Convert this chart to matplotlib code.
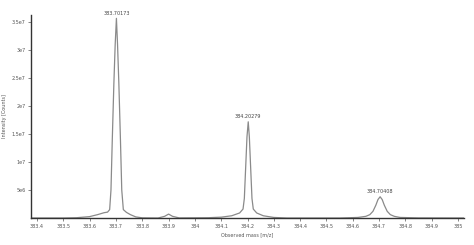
import matplotlib
matplotlib.use("Agg")
import matplotlib.pyplot as plt

mz = [383.377, 383.50, 383.55, 383.60, 383.63, 383.655, 383.668, 383.676,
      383.681, 383.686, 383.692, 383.697, 383.7017, 383.706, 383.711,
      383.717, 383.722, 383.728, 383.74, 383.755, 383.775, 383.80, 383.86,
      383.885, 383.90, 383.915, 383.94, 384.05, 384.10, 384.14, 384.17,
      384.183, 384.188, 384.193, 384.198, 384.2028, 384.207, 384.212,
      384.217, 384.222, 384.235, 384.26, 384.30, 384.35, 384.55, 384.62,
      384.65, 384.665, 384.677, 384.688, 384.696, 384.7041, 384.712,
      384.720, 384.731, 384.743, 384.758, 384.78, 384.85, 385.023]
intensity = [0, 0, 0.05e6, 0.25e6, 0.6e6, 0.95e6, 1.05e6, 1.5e6,
             5e6, 14e6, 24e6, 31e6, 35.7e6, 31e6, 24e6,
             14e6, 5e6, 1.5e6, 1.0e6, 0.6e6, 0.2e6, 0.03e6, 0,
             0.3e6, 0.7e6, 0.3e6, 0.02e6, 0.05e6, 0.15e6, 0.4e6, 0.9e6,
             1.6e6, 3.5e6, 9e6, 14.5e6, 17.2e6, 14.5e6, 9e6,
             3.5e6, 1.6e6, 0.9e6, 0.4e6, 0.1e6, 0, 0, 0.1e6,
             0.3e6, 0.6e6, 1.2e6, 2.3e6, 3.3e6, 3.8e6, 3.3e6,
             2.3e6, 1.2e6, 0.6e6, 0.3e6, 0.1e6, 0.02e6, 0]

# === Rótulos dos picos ===
peak_mz = [383.7017, 384.2028, 384.7041]
peak_int = [35.7e6, 17.2e6, 3.8e6]
peak_labels = ["383.70173", "384.20279", "384.70408"]

x_ticks = [383.4, 383.5, 383.6, 383.7, 383.8, 383.9, 384.0, 384.1, 384.2,
           384.3, 384.4, 384.5, 384.6, 384.7, 384.8, 384.9, 385.0]
x_tick_labels = ["383.4", "383.5", "383.6", "383.7", "383.8", "383.9", "384",
                 "384.1", "384.2", "384.3", "384.4", "384.5", "384.6",
                 "384.7", "384.8", "384.9", "385"]
y_ticks = [5e6, 1e7, 1.5e7, 2e7, 2.5e7, 3e7, 3.5e7]
y_tick_labels = ["5e6", "1e7", "1.5e7", "2e7", "2.5e7", "3e7", "3.5e7"]

fig = plt.figure(figsize=(4.74, 2.45), dpi=100)
ax = fig.add_axes([31 / 474, 27 / 245, 433 / 474, 203 / 245])

ax.plot(mz, intensity, color="#8a8a8a", linewidth=0.9)

for x, y, lab in zip(peak_mz, peak_int, peak_labels):
    ax.annotate(lab, (x, y), xytext=(0, 2), textcoords="offset points",
                ha="center", va="bottom", fontsize=3.5, color="#444444")

ax.set_xlim(383.377, 385.023)
ax.set_ylim(0, 3.63e7)
ax.set_xticks(x_ticks)
ax.set_xticklabels(x_tick_labels)
ax.set_yticks(y_ticks)
ax.set_yticklabels(y_tick_labels)
ax.tick_params(labelsize=3.5, length=2, width=0.5, colors="#555555", pad=2)

for side in ["top", "right"]:
    ax.spines[side].set_visible(False)
for side in ["left", "bottom"]:
    ax.spines[side].set_color("#333333")
    ax.spines[side].set_linewidth(1.0)

ax.set_xlabel("Observed mass [m/z]", fontsize=3.5, color="#555555", labelpad=3)
ax.set_ylabel("Intensity [Counts]", fontsize=3.5, color="#555555", labelpad=3)

fig.savefig("out.png", dpi=100)
